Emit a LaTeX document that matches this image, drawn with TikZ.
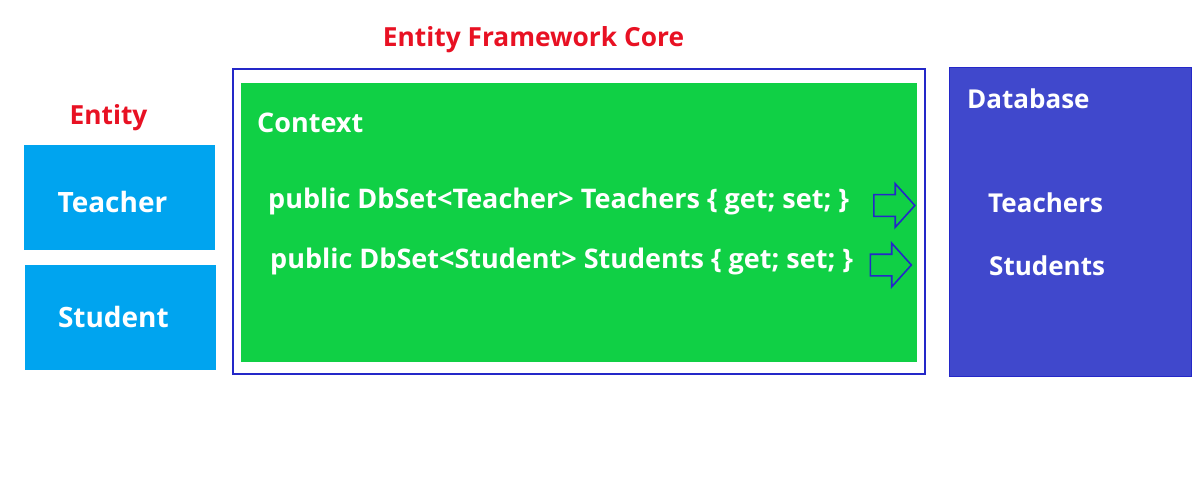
\documentclass[tikz,border=0pt]{standalone}
\usepackage{fontspec}
\setmainfont{Open Sans}
\usetikzlibrary{
    positioning,
    shapes.arrows
    }

\definecolor{efred}{RGB}{232,17,35}
\definecolor{entityblue}{RGB}{0,164,239}
\definecolor{contextgreen}{RGB}{16,208,69}
\definecolor{dbblue}{RGB}{64,72,204}
\definecolor{frameblue}{RGB}{36,40,200}

\begin{document}
\begin{tikzpicture}[x=1pt, y=-1pt]
\tikzset{caption/.style =
        {
            text=efred,
            font=\bfseries\fontsize{26.3}{30}\selectfont,
            anchor=base,
            inner sep=0pt
        }
}

\tikzset{entitybox/.style =
        {
            rectangle,
            fill=entityblue,
            text=white,
            font=\bfseries\fontsize{28}{30}\selectfont,
            text width=124pt,
            align=left,
            inner xsep=33.5pt,
            inner ysep=0pt,
            minimum height=105pt,
            text depth=0pt
        }
}

\tikzset{whitetext/.style =
        {
            text=white,
            font=\bfseries\fontsize{26}{30}\selectfont,
            anchor=base west,
            inner sep=0pt
        }
}

\tikzset{codetext/.style =
        {
            whitetext,
            font=\bfseries\fontsize{27}{30}\selectfont
        }
}

\tikzset{maparrow/.style =
        {
            single arrow,
            draw=frameblue,
            line width=1.6pt,
            fill=none,
            inner sep=0pt,
            inner ysep=10pt,
            single arrow head extend=11pt,
            single arrow tip angle=96,
            minimum height=41pt
        }
}
		\useasboundingbox (0,0) rectangle (1200,484);

		% entities
		\node[caption] (entity) at (108.5,125) {Entity};
		\node[entitybox, text height=29pt] (teacher) at (119.5,197.5) {Teacher};
		\node[entitybox, text height=19pt] (student) at (120,317.5) {Student};

		% entity framework core
		\node[caption] (efcore) at (533.5,47) {Entity Framework Core};
		\draw[frameblue, line width=1.6pt] (233,69) rectangle (925,374);
		\fill[contextgreen] (241,83) rectangle (917,362);
		\node[codetext] (context) at (257,133) {Context};
		\node[codetext] (dbsetT) at (268,208) {public DbSet<Teacher> Teachers \{ get; set; \}};
		\node[codetext] (dbsetS) at (270,268) {public DbSet<Student> Students \{ get; set; \}};
		\node[maparrow] (arrT) at (889.5,205.5) {};
		\node[maparrow] (arrS) at (886,265) {};

		% database
		\fill[dbblue] (949,67) rectangle (1191,376);
		\draw[frameblue, line width=0.8pt] (949,67) rectangle (1191,376);
		\node[whitetext] (database) at (967,109) {Database};
		\node[whitetext] (tblT) at (988,212) {Teachers};
		\node[whitetext] (tblS) at (989,275) {Students};

	\end{tikzpicture}
\end{document}
